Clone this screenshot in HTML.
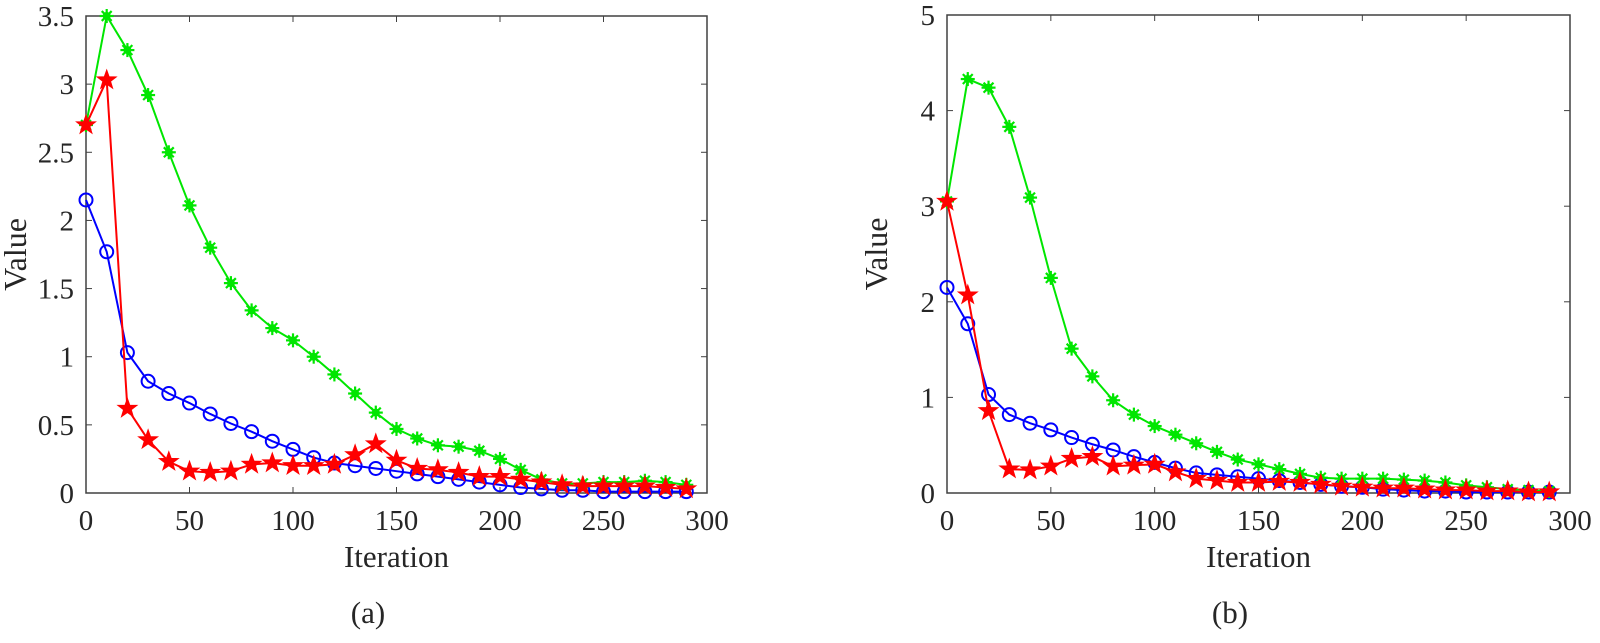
<!DOCTYPE html>
<html><head><meta charset="utf-8"><style>
html,body{margin:0;padding:0;background:#fff;width:1600px;height:643px;overflow:hidden}
svg text{font-family:"Liberation Serif","DejaVu Serif","Times New Roman",serif;fill:#262626}
</style></head><body>
<svg id="s" width="1600" height="643" xmlns="http://www.w3.org/2000/svg"></svg>
<script>
const S=document.getElementById('s');let h='';
function ax(L,R,T,B,ymax,ystep,fmt,data,lab,labx){
 const sx=v=>L+(R-L)*v/300, sy=v=>B-(B-T)*v/ymax;
 h+=`<rect x="${L}" y="${T}" width="${R-L}" height="${B-T}" fill="none" stroke="#404040" stroke-width="1.5"/>`;
 for(let v=0;v<=300;v+=50){const x=sx(v);
  h+=`<line x1="${x}" y1="${B}" x2="${x}" y2="${B-6}" stroke="#404040"/><line x1="${x}" y1="${T}" x2="${x}" y2="${T+6}" stroke="#404040"/>`;
  h+=`<text x="${x}" y="${B+37}" font-size="29" text-anchor="middle">${v}</text>`;}
 for(let v=0;v<=ymax+1e-9;v+=ystep){const y=sy(v);
  h+=`<line x1="${L}" y1="${y}" x2="${L+6}" y2="${y}" stroke="#404040"/><line x1="${R}" y1="${y}" x2="${R-6}" y2="${y}" stroke="#404040"/>`;
  h+=`<text x="${L-12}" y="${y+10}" font-size="29" text-anchor="end">${fmt(v)}</text>`;}
 h+=`<text x="${(L+R)/2}" y="${B+74}" font-size="31" text-anchor="middle">Iteration</text>`;
 h+=`<text transform="translate(${L-60},${(T+B)/2}) rotate(-90)" font-size="32" text-anchor="middle">Value</text>`;
 h+=`<text x="${labx}" y="623" font-size="31" text-anchor="middle">${lab}</text>`;
 const [g,r,b]=data;
 for(const [d,c,m] of [[b,'#0000ff','o'],[g,'#00e600','*'],[r,'#ff0000','p']]){
  const pts=d.map((v,i)=>[sx(i*10),sy(v)]);
  h+=`<polyline points="${pts.map(p=>p.join(',')).join(' ')}" fill="none" stroke="${c}" stroke-width="2"/>`;
  for(const [x,y] of pts){
   if(m=='o')h+=`<circle cx="${x}" cy="${y}" r="6.5" fill="none" stroke="${c}" stroke-width="2"/>`;
   else if(m=='p'){let p=[];for(let k=0;k<10;k++){const a=-Math.PI/2+k*Math.PI/5,rr=k%2?4:10;p.push((x+rr*Math.cos(a)).toFixed(1)+','+(y+rr*Math.sin(a)).toFixed(1));}
    h+=`<polygon points="${p.join(' ')}" fill="${c}" stroke="${c}" stroke-width="1"/>`;}
   else{h+=`<circle cx="${x}" cy="${y}" r="4" fill="${c}"/>`;for(let k=0;k<4;k++){const a=k*Math.PI/4;h+=`<line x1="${x-7*Math.cos(a)}" y1="${y-7*Math.sin(a)}" x2="${x+7*Math.cos(a)}" y2="${y+7*Math.sin(a)}" stroke="${c}" stroke-width="2.2"/>`;}}
  }}
}
const gA=[2.7,3.5,3.25,2.92,2.5,2.11,1.8,1.54,1.34,1.21,1.12,1.0,0.87,0.73,0.59,0.47,0.4,0.35,0.34,0.31,0.25,0.17,0.1,0.07,0.07,0.08,0.08,0.09,0.08,0.06];
const rA=[2.7,3.03,0.62,0.39,0.23,0.16,0.15,0.16,0.21,0.22,0.2,0.2,0.21,0.28,0.36,0.24,0.18,0.17,0.15,0.12,0.12,0.1,0.08,0.06,0.05,0.05,0.05,0.05,0.04,0.03];
const bA=[2.15,1.77,1.03,0.82,0.73,0.66,0.58,0.51,0.45,0.38,0.32,0.26,0.22,0.2,0.18,0.16,0.14,0.12,0.1,0.08,0.06,0.04,0.03,0.02,0.02,0.01,0.01,0.01,0.01,0.01];
const gB=[3.05,4.33,4.24,3.83,3.09,2.25,1.51,1.22,0.97,0.82,0.7,0.61,0.52,0.43,0.35,0.3,0.25,0.2,0.16,0.15,0.15,0.15,0.14,0.13,0.11,0.08,0.06,0.04,0.03,0.02];
const rB=[3.05,2.07,0.86,0.25,0.24,0.28,0.36,0.38,0.28,0.29,0.3,0.22,0.15,0.13,0.11,0.11,0.12,0.11,0.09,0.07,0.06,0.05,0.05,0.04,0.03,0.03,0.02,0.02,0.01,0.01];
const bB=[2.15,1.77,1.03,0.82,0.73,0.66,0.58,0.51,0.45,0.38,0.32,0.26,0.21,0.19,0.17,0.15,0.13,0.11,0.09,0.07,0.06,0.04,0.03,0.02,0.02,0.01,0.01,0.01,0.01,0.01];
ax(86,707,16,493,3.5,0.5,v=>String(+v.toFixed(1)),[gA,rA,bA],'(a)',368);
ax(947,1570,15,493,5,1,v=>String(Math.round(v)),[gB,rB,bB],'(b)',1230);
S.innerHTML=h;
</script>
</body></html>
